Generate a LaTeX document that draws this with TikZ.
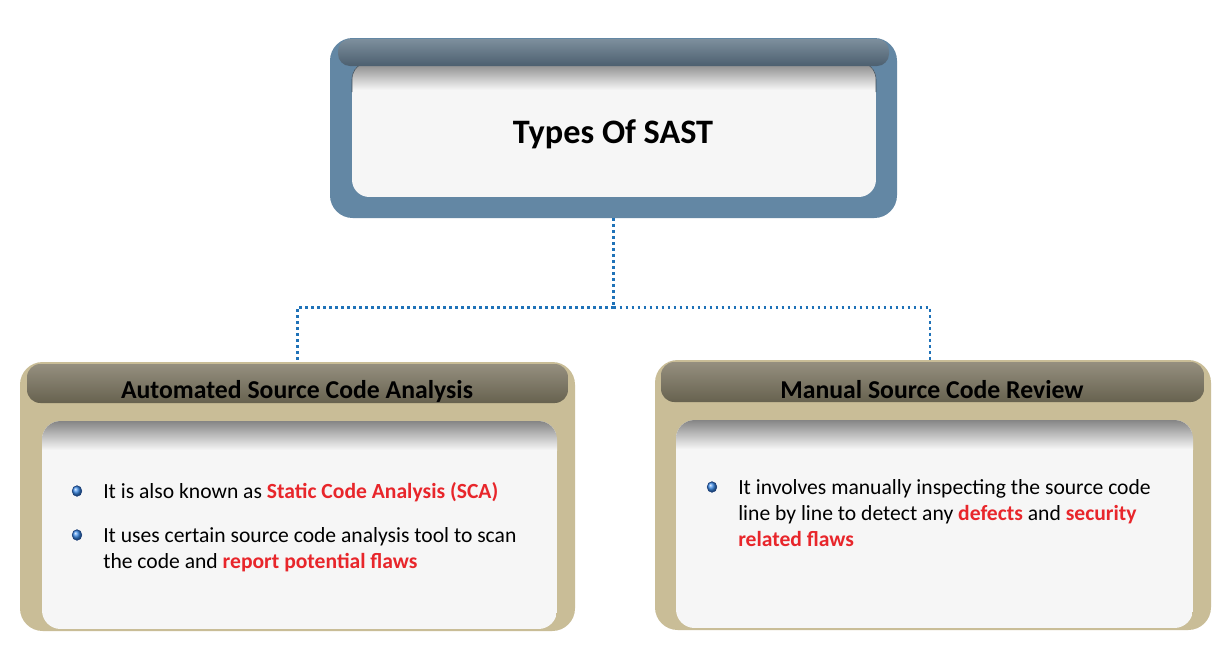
\documentclass[tikz,border=0pt]{standalone}
\usepackage{fontspec}
\setmainfont{Carlito}
\usetikzlibrary{calc}
\definecolor{steel}{HTML}{6387A4}
\definecolor{steelhdtop}{HTML}{7D8F9D}
\definecolor{steelhdbot}{HTML}{4C5F6F}
\definecolor{tanbody}{HTML}{C9BD97}
\definecolor{tanhdtop}{HTML}{958F7F}
\definecolor{tanhdbot}{HTML}{67624F}
\definecolor{paper}{HTML}{F6F6F6}
\definecolor{shadowgray}{HTML}{858585}
\definecolor{hotred}{HTML}{E8262B}
\definecolor{dotblue}{HTML}{1F72B8}
\definecolor{bulletblue}{HTML}{3A8AE8}
\definecolor{bulletrim}{HTML}{1C3F7A}
\newcommand\redbf[1]{\textcolor{hotred}{\textbf{#1}}}
\tikzset{
  outerbox/.style={rounded corners=17pt, inner sep=0pt, draw=none},
  steelhead/.style={rounded corners=9pt, top color=steelhdtop, bottom color=steelhdbot},
  tanhead/.style={rounded corners=10pt, top color=tanhdtop, bottom color=tanhdbot},
  innershadow/.style={top color=shadowgray, bottom color=paper},
  dotline/.style={dotblue, line width=2.2pt, dash pattern=on 2.2pt off 2.3pt},
  body/.style={font=\fontsize{16.2}{21}\selectfont, anchor=base west, inner sep=0pt},
  headtext/.style={font=\fontsize{19.3}{23}\selectfont\bfseries, anchor=base, inner sep=0pt},
  titletext/.style={font=\fontsize{25.7}{30}\selectfont\bfseries, anchor=base, inner sep=0pt},
  bulletdot/.style={ball color=bulletblue, draw=bulletrim, line width=0.5pt}
}
\begin{document}
\begin{tikzpicture}[x=0.75pt,y=-0.75pt]
\useasboundingbox (0,0) rectangle (1218,654);
\fill[white] (0,0) rectangle (1218,654);

% ---------- top box ----------
\node[outerbox, fill=steel, minimum width=425.25pt, minimum height=135pt] (topbox) at (613.5,128) {};
\begin{scope}
  \clip[rounded corners=13pt] (352,62) rectangle (876,197);
  \fill[paper] (352,62) rectangle (876,197);
  \shade[innershadow] (352,62) rectangle (876,90);
\end{scope}
\draw[steelhdbot!80!black, line width=0.4pt, rounded corners=13pt] (352,92) -- (352,62) -- (876,62) -- (876,92);
\shade[steelhead] (338,39) rectangle (889,66);
\node[titletext] (title) at (613,143) {Types Of SAST};

% ---------- left box ----------
\node[outerbox, fill=tanbody, minimum width=416.25pt, minimum height=201.75pt] (autobox) at (297.5,496.5) {};
\begin{scope}
  \clip[rounded corners=17pt] (20,362) rectangle (575,631);
  \clip[rounded corners=14pt] (42,421) rectangle (557,629);
  \fill[paper] (42,421) rectangle (557,629);
  \shade[innershadow] (42,421) rectangle (557,450);
\end{scope}
\shade[tanhead] (27,364) rectangle (568,403);
\node[headtext] (autotitle) at (297,398) {Automated Source Code Analysis};

% ---------- right box ----------
\node[outerbox, fill=tanbody, minimum width=417pt, minimum height=202.5pt] (manualbox) at (933,495) {};
\begin{scope}
  \clip[rounded corners=17pt] (655,360) rectangle (1211,630);
  \clip[rounded corners=14pt] (676,420) rectangle (1193,628);
  \fill[paper] (676,420) rectangle (1193,628);
  \shade[innershadow] (676,420) rectangle (1193,449);
\end{scope}
\shade[tanhead] (661,362) rectangle (1204,402);
\node[headtext] (manualtitle) at (932,398) {Manual Source Code Review};

% ---------- connectors ----------
\coordinate (junction) at ($(topbox.south)+(0,89)$);
\draw[dotline] (topbox.south) -- (junction);
\draw[dotline] (junction) -| (autobox.north);
\draw[dotline] (junction) -| ([xshift=-2.25pt]manualbox.north);

% ---------- bullets and text ----------
\shade[bulletdot] (77,491) ellipse (4.8 and 5.3);
\shade[bulletdot] (77,535) ellipse (4.8 and 5.3);
\shade[bulletdot] (712,487) ellipse (4.8 and 5.3);

\node[body] (a1) at (103,498) {It is also known as \redbf{Static Code Analysis (SCA)}};
\node[body] (a2) at (103,542) {It uses certain source code analysis tool to scan};
\node[body] (a3) at (103,568) {the code and \redbf{report potential flaws}};

\node[body] (m1) at (738,494) {It involves manually inspecting the source code};
\node[body] (m2) at (738,520) {line by line to detect any \redbf{defects} and \redbf{security}};
\node[body] (m3) at (738,546) {\redbf{related flaws}};
\end{tikzpicture}
\end{document}
